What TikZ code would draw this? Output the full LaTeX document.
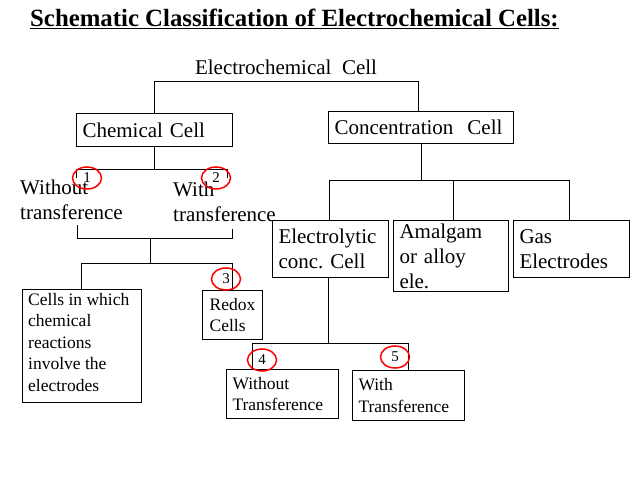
\documentclass[tikz,border=0pt]{standalone}
\usepackage{fontspec}
\setmainfont{Liberation Serif}
\usetikzlibrary{shapes.geometric}
\tikzset{
 bx/.style={draw,line width=1pt,anchor=north west,inner xsep=6pt,inner ysep=3pt,align=left,font=\fontsize{21}{25}\selectfont\frenchspacing},
 sbx/.style={draw,line width=1pt,anchor=north west,inner xsep=6pt,inner ysep=3pt,align=left,font=\fontsize{17.5}{21.5}\selectfont\frenchspacing},
 ln/.style={line width=1pt},
 mark circ/.style={draw=red,line width=1.5pt,ellipse,minimum width=29pt,minimum height=22pt,inner sep=0pt,font=\fontsize{15}{15}\selectfont},
 lbl/.style={anchor=north west,align=left,inner sep=0pt,font=\fontsize{21}{25}\selectfont},
}
\begin{document}
\begin{tikzpicture}[x=1pt,y=-1pt]
\useasboundingbox (0,0) rectangle (638,478);
\node[anchor=west,inner sep=0pt,font=\fontsize{24.8}{28}\selectfont\bfseries] (title) at (30,19) {\underline{Schematic Classification of Electrochemical Cells:}};
\node[inner sep=0pt,font=\fontsize{21}{25}\selectfont] (ec) at (286,67) {Electrochemical\ \ Cell};
\node[bx,minimum height=33pt,text width=144pt] (chem) at (76,113) {Chemical Cell};
\node[bx,minimum height=32pt,text width=173pt] (conc) at (328,111) {Concentration\ \ Cell};
\draw[ln] (154,113) -- (154,82) -- (418,82) -- (418,111);
% chemical branches
\draw[ln] (154,146) -- (154,170);
\draw[ln] (76,178) -- (76,170) -- (227,170) -- (227,178);
\node[lbl] (wo) at (20,180) {Without\\transference};
\node[lbl] (wi) at (173,182) {With\\transference};
\node[mark circ] (c1) at (87,178) {1};
\node[mark circ] (c2) at (216,178) {2};
\draw[ln] (77,225) -- (77,239) -- (232,239) -- (232,229);
\draw[ln] (150,239) -- (150,264);
\draw[ln] (81,289) -- (81,264) -- (232,264) -- (232,290);
\node[draw,line width=1pt,anchor=north west,minimum width=119pt,minimum height=113pt] (cw) at (22,289) {};
\node[anchor=north west,align=left,inner sep=0pt,font=\fontsize{17.5}{21.5}\selectfont] (cwt) at (28,293) {Cells in which\\chemical\\reactions\\involve the\\electrodes};
\node[sbx,minimum width=60pt,minimum height=49pt,inner xsep=5pt] (redox) at (202,290) {Redox\\Cells};
\node[mark circ] (c3) at (226,279) {3};
% concentration
\draw[ln] (421,143) -- (421,181);
\draw[ln] (329,220) -- (329,181) -- (569,181) -- (569,220);
\draw[ln] (453,181) -- (453,220);
\node[bx,minimum height=57pt,text width=104pt] (el) at (272,220) {Electrolytic\\conc. Cell};
\node[bx,minimum height=57pt,text width=103pt] (am) at (393,220) {Amalgam\\or alloy ele.};
\node[bx,minimum height=57pt,text width=104pt] (gas) at (513,220) {Gas\\Electrodes};
\draw[ln] (328,277) -- (328,344);
\draw[ln] (252,368) -- (252,344) -- (408,344) -- (408,370);
\node[sbx,minimum height=49pt,text width=100pt] (wot) at (226,369) {Without\\Transference};
\node[sbx,minimum height=50pt,text width=100pt] (wit) at (352,370) {With\\Transference};
\node[mark circ] (c4) at (262,360) {4};
\node[mark circ] (c5) at (395,357) {5};
\end{tikzpicture}
\end{document}
